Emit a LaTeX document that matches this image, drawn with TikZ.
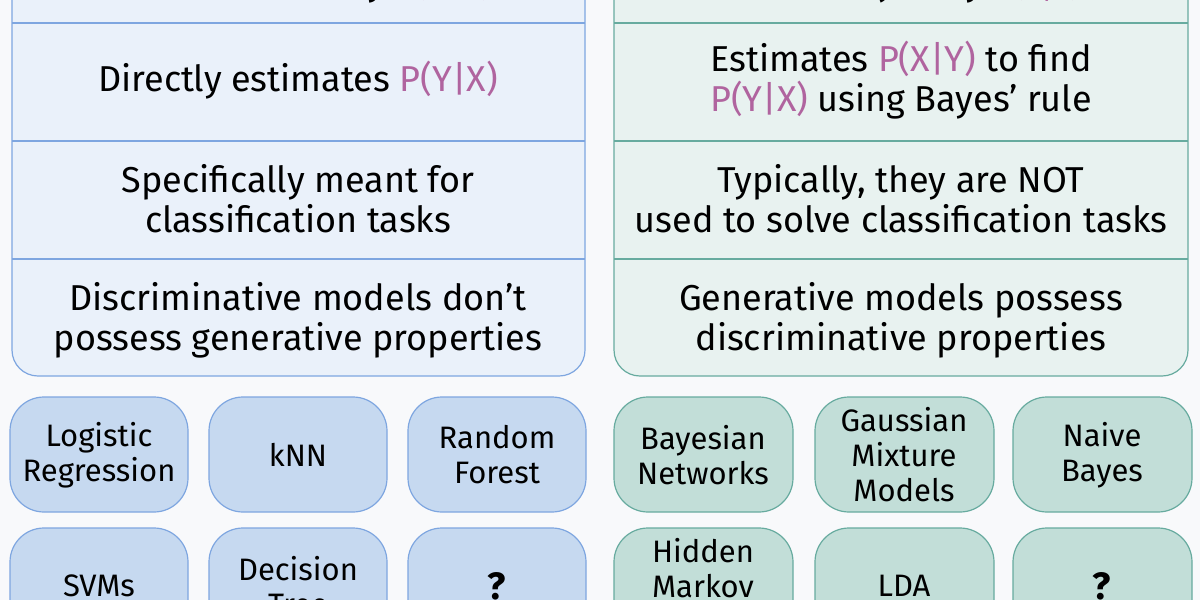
\documentclass[tikz,border=0pt]{standalone}
\usepackage{fontspec}
\setmainfont{Fira Sans}
\begin{document}
\begin{tikzpicture}[x=0.5pt,y=-0.5pt,
  big/.style={font=\fontsize{18}{20}\selectfont,align=center,text=black},
  sm/.style={font=\fontsize{15.5}{17.5}\selectfont,align=center},
  bbox/.style={draw=bl,fill=blfill,rounded corners=17pt,line width=0.6pt},
  gbox/.style={draw=gr,fill=grfill,rounded corners=17pt,line width=0.6pt},
  sep/.style={line width=1.3pt}]
\definecolor{bg}{HTML}{F8F9FB}
\definecolor{bl}{HTML}{7EA6E0}\definecolor{blpanel}{HTML}{EAF1FA}\definecolor{blfill}{HTML}{C6D9F0}
\definecolor{gr}{HTML}{67AB9F}\definecolor{grpanel}{HTML}{E8F2F0}\definecolor{grfill}{HTML}{C2DED8}
\definecolor{pu}{HTML}{B0649F}
\useasboundingbox (0,0) rectangle (1200,600);
\clip (0,0) rectangle (1200,600);
\fill[bg] (0,0) rectangle (1200,600);
\draw[draw=bl,fill=blpanel,rounded corners=13pt,line width=0.6pt] (12,-200) rectangle (585,376);
\draw[draw=gr,fill=grpanel,rounded corners=13pt,line width=0.6pt] (614,-200) rectangle (1188,376);
\foreach \y in {23,141,259}{
  \draw[sep,bl] (12,\y) -- (585,\y);
  \draw[sep,gr] (614,\y) -- (1188,\y);}
\node[big] (l1) at (298,-16) {Models it directly \textcolor{pu}{P(Y|X)}};
\node[big] (r1) at (901,-16) {Models it jointly \textcolor{pu}{P(X,Y)}};
\node[big] (l2) at (298,80) {Directly estimates \textcolor{pu}{P(Y|X)}};
\node[big] (r2) at (901,80) {Estimates \textcolor{pu}{P(X|Y)} to find\\\textcolor{pu}{P(Y|X)} using Bayes' rule};
\node[big] (l3) at (298,199) {Specifically meant for\\classification tasks};
\node[big] (r3) at (901,199) {Typically, they are NOT\\used to solve classification tasks};
\node[big] (l4) at (298,320) {Discriminative models don't\\possess generative properties};
\node[big] (r4) at (901,320) {Generative models possess\\discriminative properties};
\foreach \x in {10,209,408}{
  \draw[bbox] (\x,397) rectangle ++(178,115);
  \draw[bbox] (\x,528) rectangle ++(178,115);}
\foreach \x in {614,815,1013}{
  \draw[gbox] (\x,397) rectangle ++(179,115);
  \draw[gbox] (\x,528) rectangle ++(179,115);}
\node[sm] (m1) at (99,455) {Logistic\\Regression};
\node[sm] (m2) at (298,455) {kNN};
\node[sm] (m3) at (497,455) {Random\\Forest};
\node[sm] (m4) at (99,586) {SVMs};
\node[sm] (m5) at (298,586) {Decision\\Tree};
\node[sm,font=\fontsize{19}{20}\selectfont\bfseries] (m6) at (497,586) {?};
\node[sm] (g1) at (703,455) {Bayesian\\Networks};
\node[sm] (g2) at (904,455) {Gaussian\\Mixture\\Models};
\node[sm] (g3) at (1102,455) {Naive\\Bayes};
\node[sm] (g4) at (703,586) {Hidden\\Markov\\Models};
\node[sm] (g5) at (904,586) {LDA};
\node[sm,font=\fontsize{19}{20}\selectfont\bfseries] (g6) at (1102,586) {?};
\end{tikzpicture}
\end{document}
